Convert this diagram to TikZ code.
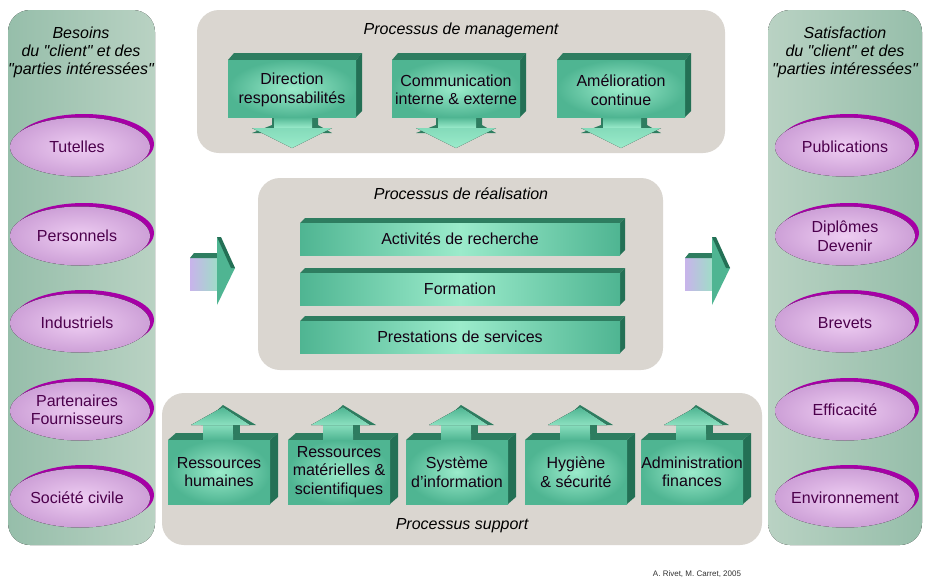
\documentclass[tikz,border=0pt]{standalone}
\usepackage{fontspec}
\setmainfont{Liberation Sans}
\begin{document}
\begin{tikzpicture}[x=1pt,y=-1pt,
  panel/.style={rounded corners=22pt,fill=#1},
  ttl/.style={font=\fontsize{16}{18}\selectfont\itshape,align=center,text=black},
  bx/.style={font=\fontsize{16}{18.5}\selectfont,align=center,text=black!85!violet},
  ell/.style={font=\fontsize{16}{18.5}\selectfont,align=center,text=violet!60!black}]
\definecolor{gfront}{HTML}{4FB592}
\definecolor{glight}{HTML}{9BEBCB}
\definecolor{gtop}{HTML}{2E7D60}
\definecolor{gside}{HTML}{237055}
\definecolor{pgreyA}{RGB}{150,190,170}
\definecolor{pgreyB}{RGB}{185,210,195}
\definecolor{boxgrey}{RGB}{218,214,208}
\definecolor{ein}{RGB}{238,205,242}
\definecolor{eout}{RGB}{205,160,215}
\definecolor{lav}{RGB}{200,180,235}
\definecolor{mint}{RGB}{160,220,200}
\useasboundingbox (0,0) rectangle (929,582);
\fill[white] (0,0) rectangle (929,582);
% panels
\fill[left color=pgreyA,right color=pgreyB,rounded corners=22pt] (8,10) rectangle (155,545);
\fill[left color=pgreyB,right color=pgreyA,rounded corners=22pt] (768,10) rectangle (922,545);
\fill[panel=boxgrey] (197,10) rectangle (725,153);
\fill[panel=boxgrey] (258,178) rectangle (663,370);
\fill[panel=boxgrey] (162,393) rectangle (762,545);
\node[ttl] (tl) at (81,52) {Besoins\\du \textquotedbl client\textquotedbl{} et des\\\textquotedbl parties intéressées\textquotedbl};
\node[ttl] (tr) at (845,52) {Satisfaction\\du \textquotedbl client\textquotedbl{} et des\\\textquotedbl parties intéressées\textquotedbl};
\node[ttl] (tm) at (461,30) {Processus de management};
\node[ttl] (trz) at (461,194) {Processus de réalisation};
\node[ttl] (ts) at (462,526) {Processus support};
% ellipses
\foreach \cx in {80,845}{
\foreach \cy in {146,235,322,410,497}{
  \fill[violet!70!magenta] (\cx+4,\cy-2) ellipse (70 and 30);
  \fill[inner color=ein,outer color=eout] (\cx,\cy+1) ellipse (70 and 29.5);
}}
\node[ell] (e1) at (77,147) {Tutelles};
\node[ell] (e2) at (77,236) {Personnels};
\node[ell] (e3) at (77,323) {Industriels};
\node[ell] (e4) at (77,410) {Partenaires\\Fournisseurs};
\node[ell] (e5) at (77,498) {Société civile};
\node[ell] (f1) at (845,147) {Publications};
\node[ell] (f2) at (845,236) {Diplômes\\Devenir};
\node[ell] (f3) at (845,323) {Brevets};
\node[ell] (f4) at (845,410) {Efficacité};
\node[ell] (f5) at (845,498) {Environnement};
% management arrows
\foreach \x/\t [count=\i] in {228/{Direction\\responsabilités},392/{Communication\\interne \& externe},557/{Amélioration\\continue}}{
  \fill[gtop] (\x,60) -- (\x+6,53) -- (\x+134,53) -- (\x+128,60) -- cycle;
  \fill[gside] (\x+128,60) -- (\x+134,53) -- (\x+134,111) -- (\x+128,117) -- cycle;
  \fill[gtop] (\x+44,117) -- (\x+44,125) -- (\x+24,133) -- (\x+104,133) -- (\x+90,125) -- (\x+90,117) -- cycle;
  \fill[top color=gfront,bottom color=glight] (\x+46,117) rectangle (\x+84,128);
  \fill[top color=glight!70!gfront,bottom color=glight] (\x+24,128) -- (\x+104,128) -- (\x+64,148) -- cycle;
  \fill[inner color=glight,outer color=gfront] (\x,60) rectangle (\x+128,117);
  \node[bx] (m\i) at (\x+64,90) {\t};
}
% realisation bars
\foreach \y/\t [count=\i] in {218/{Activités de recherche},268/{Formation},316/{Prestations de services}}{
  \fill[gtop] (300,\y+5) -- (305,\y) -- (625,\y) -- (620,\y+5) -- cycle;
  \fill[gside] (620,\y+5) -- (625,\y) -- (625,\y+32) -- (620,\y+37) -- cycle;
  \fill[left color=gfront,right color=gfront,middle color=glight] (300,\y+5) rectangle (620,\y+37);
  \node[bx] (r\i) at (460,\y+21) {\t};
}
% support arrows
\foreach \x/\t [count=\i] in {168/{Ressources\\humaines},288/{Ressources\\matérielles \&\\scientifiques},406/{Système\\d'information},525/{Hygiène\\\& sécurité},641/{Administration\\finances}}{
  \fill[gtop] (\x,440) -- (\x+8,433) -- (\x+110,433) -- (\x+102,440) -- cycle;
  \fill[gside] (\x+102,440) -- (\x+110,433) -- (\x+110,497) -- (\x+102,504) -- cycle;
  \fill[gtop] (\x+33,425) -- (\x+55,405) -- (\x+88,425) -- cycle;
  \fill[top color=glight,bottom color=gfront] (\x+35,420) rectangle (\x+65,440);
  \fill[gtop] (\x+65,420) rectangle (\x+72,434);
  \fill[bottom color=glight!80!gfront,top color=gfront] (\x+23,425) -- (\x+55,407) -- (\x+82,425) -- cycle;
  \fill[inner color=glight,outer color=gfront] (\x,440) rectangle (\x+102,504);
  \node[bx] (s\i) at (\x+51,472) {\t};
}
% side arrows
\foreach \x [count=\i] in {190,685}{
  \fill[left color=lav,right color=mint] (\x,258) rectangle (\x+27,290);
  \fill[gtop] (\x,258) -- (\x+4,253) -- (\x+27,253) -- (\x+27,258) -- cycle;
  \fill[gfront] (\x+27,250) -- (\x+27,237) -- (\x+45,268) -- (\x+27,305) -- (\x+27,290) -- cycle;
  \fill[gside] (\x+27,237) -- (\x+31,237) -- (\x+45,268) -- (\x+41,268) -- cycle;
  \coordinate (sa\i) at (\x,270);
}
\node[font=\fontsize{8}{10}\selectfont,text=black!80] (cr) at (697,574) {A. Rivet, M. Carret, 2005};
\end{tikzpicture}
\end{document}
